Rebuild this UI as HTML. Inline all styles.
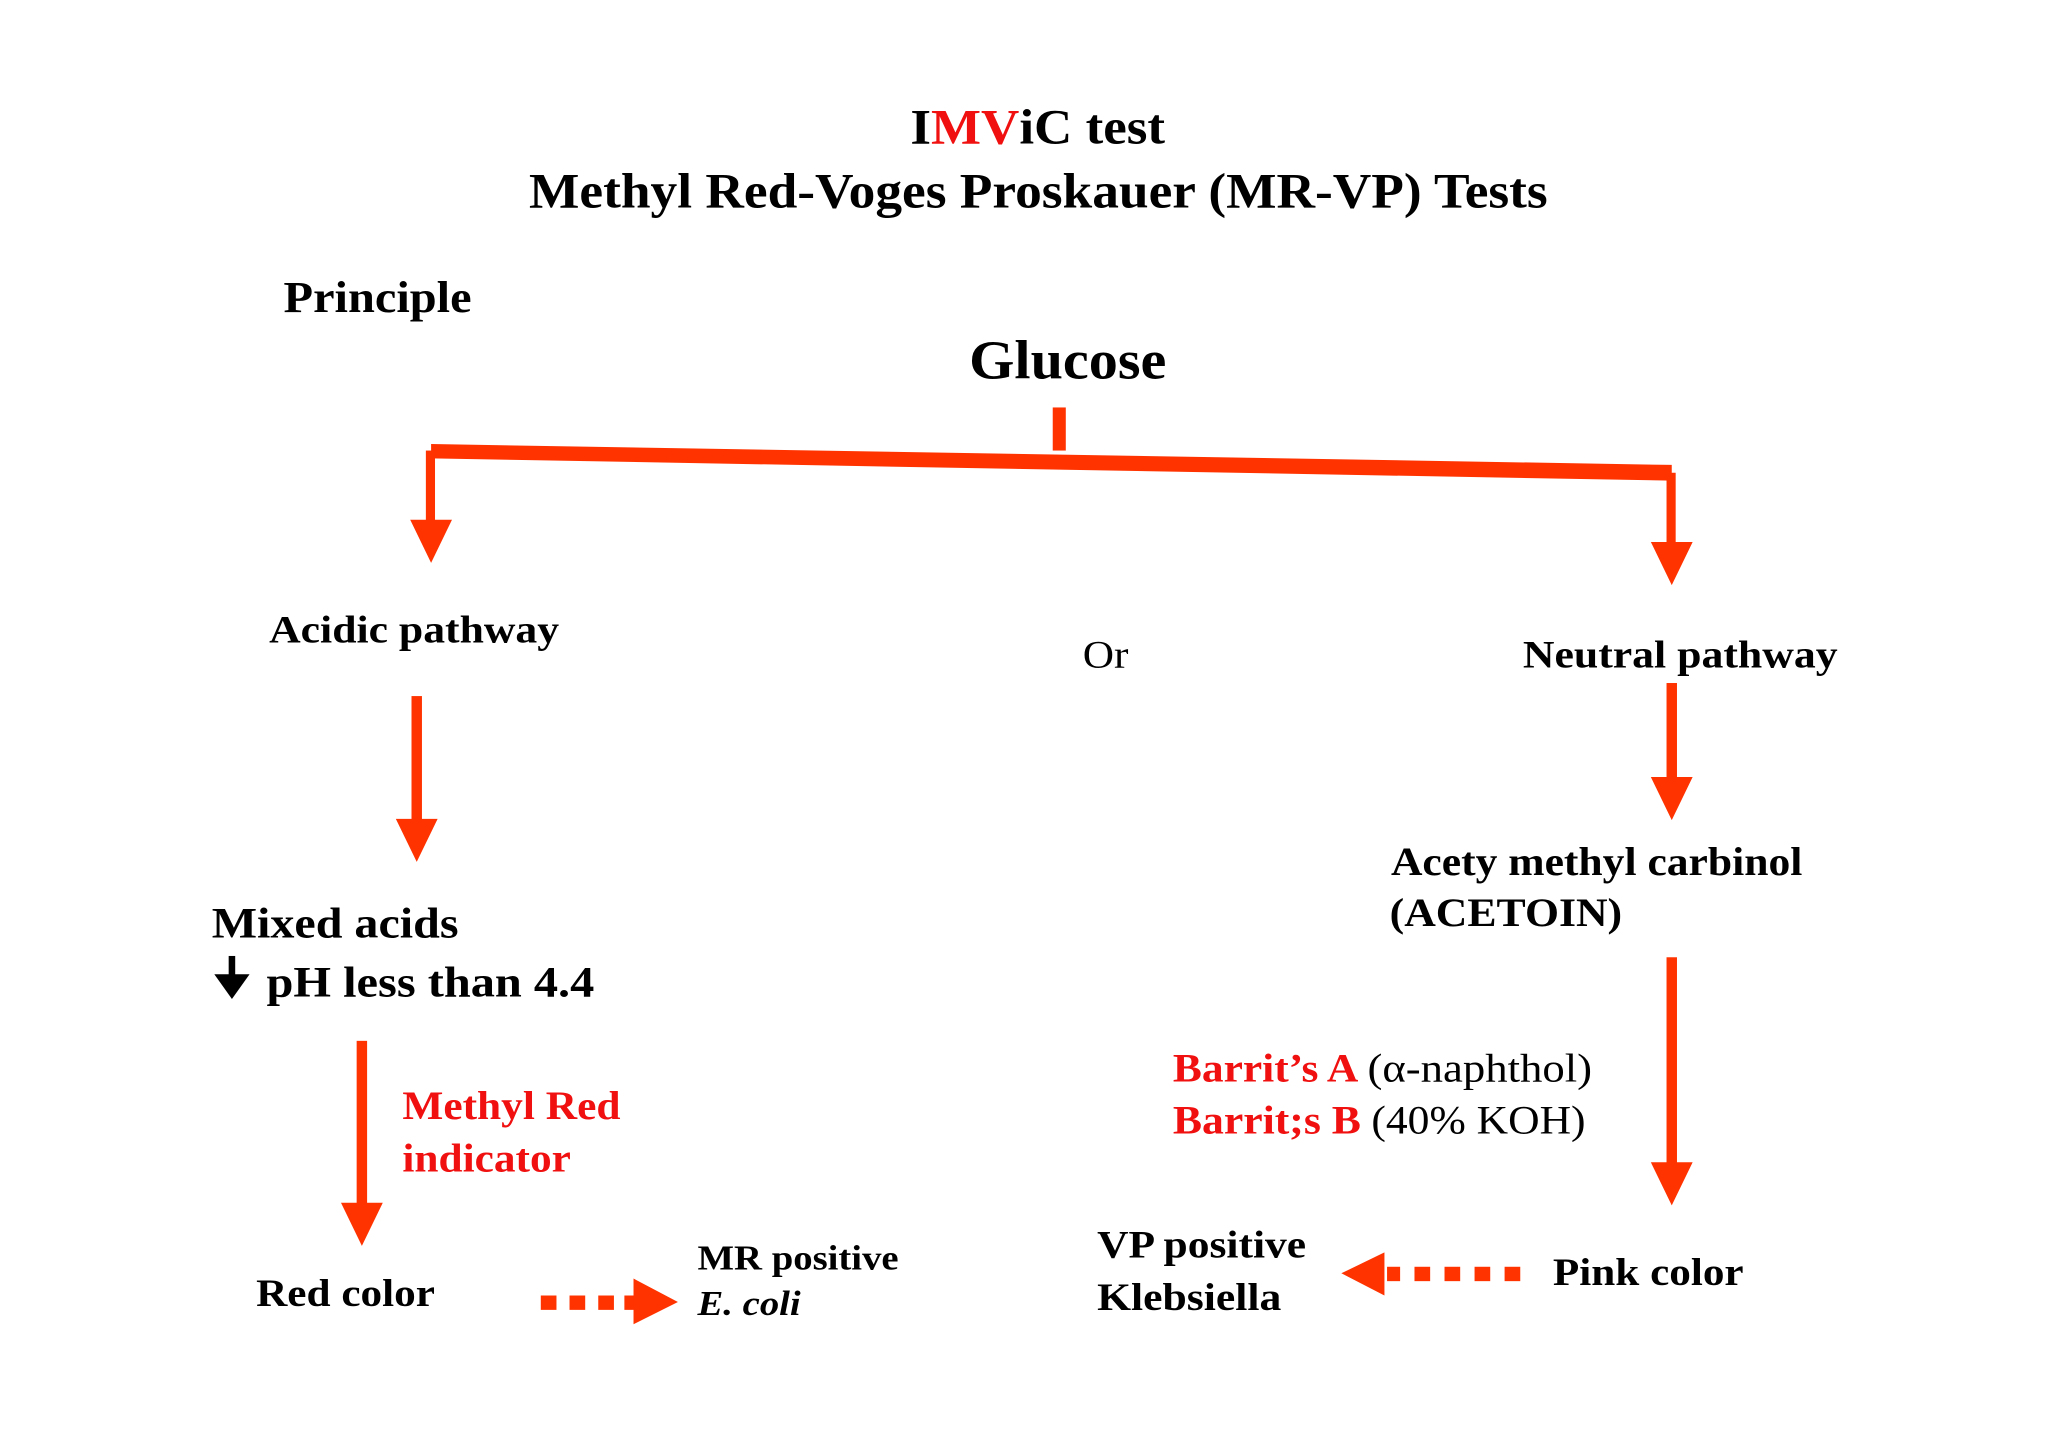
<!DOCTYPE html>
<html><head><meta charset="utf-8"><style>
html,body{margin:0;padding:0;background:#fff;}
svg{display:block;}
text{font-family:"Liberation Serif",serif;font-weight:bold;fill:#000;}
.r{fill:#f01010;}
.n{font-weight:normal;}
</style></head><body>
<svg width="2048" height="1447" viewBox="0 0 1568 1108" xmlns="http://www.w3.org/2000/svg">
<rect width="1568" height="1108" fill="#fff"/>
<g fill="#ff3300">
<!-- stem and bar -->
<rect x="806" y="312" width="10" height="33"/>
<polygon points="330,340 1280,356 1280,368 330,351"/>
<!-- left branch -->
<rect x="326" y="345" width="7" height="55"/>
<polygon points="314,398 346,398 330,431"/>
<!-- right branch -->
<rect x="1276" y="362" width="7" height="55"/>
<polygon points="1264,415 1296,415 1280,448"/>
<!-- left arrow 2 -->
<rect x="315" y="533" width="8" height="96"/>
<polygon points="303,627 335,627 319,660"/>
<!-- right arrow 2 -->
<rect x="1276" y="523" width="8" height="74"/>
<polygon points="1264,595 1296,595 1280,628"/>
<!-- left arrow 3 -->
<rect x="273" y="797" width="8" height="126"/>
<polygon points="261,921 293,921 277,954"/>
<!-- right arrow 3 -->
<rect x="1276" y="733" width="8" height="159"/>
<polygon points="1264,890 1296,890 1280,923"/>
<!-- dotted arrow right -->
<rect x="414" y="992" width="12" height="11"/>
<rect x="436" y="992" width="12" height="11"/>
<rect x="458" y="992" width="12" height="11"/>
<rect x="478" y="992" width="8" height="11"/>
<polygon points="485,979 519,997 485,1014"/>
<!-- dotted arrow left -->
<polygon points="1027,975 1060,959 1060,992"/>
<rect x="1062" y="970" width="10" height="11"/>
<rect x="1083" y="970" width="12" height="11"/>
<rect x="1106" y="970" width="12" height="11"/>
<rect x="1129" y="970" width="12" height="11"/>
<rect x="1152" y="970" width="12" height="11"/>
</g>
<!-- black arrow -->
<rect x="175" y="732" width="5" height="20" fill="#000"/>
<polygon points="164,746 191,746 177.5,765" fill="#000"/>

<text x="697" y="110" font-size="38" textLength="195" lengthAdjust="spacingAndGlyphs">I<tspan class="r">MV</tspan>iC test</text>
<text x="405" y="159" font-size="38" textLength="780" lengthAdjust="spacingAndGlyphs">Methyl Red-Voges Proskauer (MR-VP) Tests</text>
<text x="217" y="239" font-size="34" textLength="144" lengthAdjust="spacingAndGlyphs">Principle</text>
<text x="742" y="290" font-size="42" textLength="151" lengthAdjust="spacingAndGlyphs">Glucose</text>
<text x="206" y="492" font-size="30" textLength="222" lengthAdjust="spacingAndGlyphs">Acidic pathway</text>
<text x="829" y="511" font-size="30" class="n" textLength="35" lengthAdjust="spacingAndGlyphs">Or</text>
<text x="1166" y="511" font-size="30" textLength="241" lengthAdjust="spacingAndGlyphs">Neutral pathway</text>
<text x="1065" y="670" font-size="31" textLength="315" lengthAdjust="spacingAndGlyphs">Acety methyl carbinol</text>
<text x="1064" y="709" font-size="31" textLength="178" lengthAdjust="spacingAndGlyphs">(ACETOIN)</text>
<text x="162" y="718" font-size="33" textLength="189" lengthAdjust="spacingAndGlyphs">Mixed acids</text>
<text x="204" y="763" font-size="33" textLength="251" lengthAdjust="spacingAndGlyphs">pH less than 4.4</text>
<text x="308" y="857" font-size="31" class="r" textLength="167" lengthAdjust="spacingAndGlyphs">Methyl Red</text>
<text x="308" y="897" font-size="31" class="r" textLength="129" lengthAdjust="spacingAndGlyphs">indicator</text>
<text x="898" y="828" font-size="31" class="r" textLength="142" lengthAdjust="spacingAndGlyphs">Barrit’s A</text>
<text x="1047" y="828" font-size="31" class="n" textLength="172" lengthAdjust="spacingAndGlyphs">(α-naphthol)</text>
<text x="898" y="868" font-size="31" class="r" textLength="144" lengthAdjust="spacingAndGlyphs">Barrit;s B</text>
<text x="1050" y="868" font-size="31" class="n" textLength="164" lengthAdjust="spacingAndGlyphs">(40% KOH)</text>
<text x="196" y="1000" font-size="30" textLength="137" lengthAdjust="spacingAndGlyphs">Red color</text>
<text x="534" y="972" font-size="27" textLength="154" lengthAdjust="spacingAndGlyphs">MR positive</text>
<text x="534" y="1007" font-size="27" font-style="italic" textLength="79" lengthAdjust="spacingAndGlyphs">E. coli</text>
<text x="840" y="963" font-size="30" textLength="160" lengthAdjust="spacingAndGlyphs">VP positive</text>
<text x="840" y="1003" font-size="30" textLength="141" lengthAdjust="spacingAndGlyphs">Klebsiella</text>
<text x="1189" y="984" font-size="30" textLength="146" lengthAdjust="spacingAndGlyphs">Pink color</text>
</svg>
</body></html>
